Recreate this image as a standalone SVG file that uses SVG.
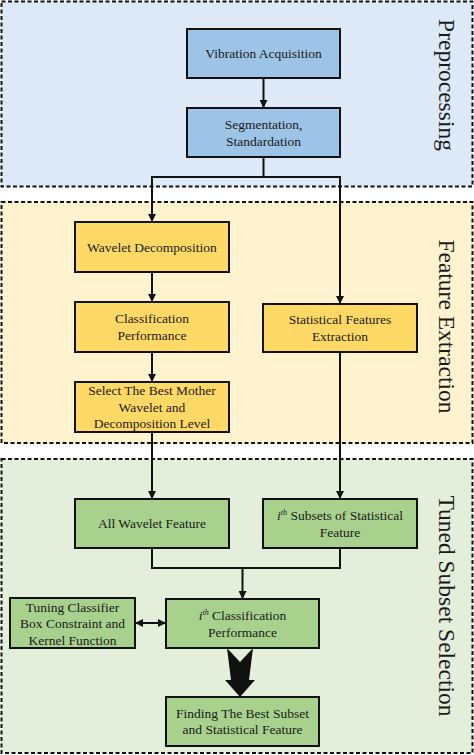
<svg xmlns="http://www.w3.org/2000/svg" width="474" height="755" viewBox="0 0 474 755">
<defs>
<style>
.panel{stroke:#111;stroke-width:2;stroke-dasharray:4 2.5}
.box{stroke:#111;stroke-width:2}
.blue{fill:#9dc3e6}.yellow{fill:#ffd966}.green{fill:#a9d18e}
.t{font-family:"Liberation Serif","Times New Roman",serif;font-size:13.5px;fill:#1a1a1a;text-anchor:middle}
.lbl{font-family:"Liberation Serif","Times New Roman",serif;font-size:23.5px;fill:#1a1a1a;text-anchor:middle}
.ln{fill:none;stroke:#111;stroke-width:2}
.it{font-style:italic}
</style>
<marker id="ah" viewBox="0 0 10 10" refX="10" refY="5" markerWidth="8" markerHeight="8" markerUnits="userSpaceOnUse" orient="auto-start-reverse">
<path d="M0,0 L10,5 L0,10 Z" fill="#111"/>
</marker>
</defs>
<rect width="474" height="755" fill="#ffffff"/>
<g id="panel-preprocessing">
<rect class="panel" x="1.5" y="1.5" width="471" height="185" fill="#dde9f6"/>
<text class="lbl" transform="translate(439,85) rotate(90)">Preprocessing</text>
</g>
<g id="panel-feature">
<rect class="panel" x="1.5" y="202" width="471" height="241" fill="#fff2cf"/>
<text class="lbl" transform="translate(439,326.5) rotate(90)">Feature Extraction</text>
</g>
<g id="panel-tuned">
<rect class="panel" x="1.5" y="459" width="471" height="294" fill="#e3efda"/>
<text class="lbl" transform="translate(439,606) rotate(90)">Tuned Subset Selection</text>
</g>
<g id="connectors">
<line class="ln" x1="263.5" y1="78" x2="263.5" y2="108" marker-end="url(#ah)"/>
<polyline class="ln" points="263.5,157 263.5,177"/>
<polyline class="ln" points="152,222 152,177 340,177 340,304" marker-start="url(#ah)" marker-end="url(#ah)"/>
<line class="ln" x1="152" y1="272" x2="152" y2="302" marker-end="url(#ah)"/>
<line class="ln" x1="152" y1="352" x2="152" y2="382" marker-end="url(#ah)"/>
<line class="ln" x1="152" y1="432" x2="152" y2="499" marker-end="url(#ah)"/>
<line class="ln" x1="340" y1="352" x2="340" y2="499" marker-end="url(#ah)"/>
<polyline class="ln" points="152,548 152,568 340,568 340,548"/>
<line class="ln" x1="242.5" y1="568" x2="242.5" y2="599" marker-end="url(#ah)"/>
<line class="ln" x1="135" y1="623" x2="166" y2="623" marker-start="url(#ah)" marker-end="url(#ah)"/>
<polygon points="227,648 240,662 253,648 249,680 255,680 240,697 225,680 231,680" fill="#111"/>
</g>
<g id="node-vibration">
<rect class="box blue" x="187" y="29" width="153" height="49"/>
<text class="t" x="263.5" y="58">Vibration Acquisition</text>
</g>
<g id="node-segmentation">
<rect class="box blue" x="187" y="108" width="153" height="49"/>
<text class="t" x="263.5" y="129">Segmentation,</text>
<text class="t" x="263.5" y="145.5">Standardation</text>
</g>
<g id="node-wavelet-decomposition">
<rect class="box yellow" x="75" y="222" width="154" height="50"/>
<text class="t" x="152" y="251.5">Wavelet Decomposition</text>
</g>
<g id="node-classification-performance">
<rect class="box yellow" x="75" y="302" width="154" height="50"/>
<text class="t" x="152" y="323">Classification</text>
<text class="t" x="152" y="339.5">Performance</text>
</g>
<g id="node-select-best">
<rect class="box yellow" x="75" y="382" width="154" height="50"/>
<text class="t" x="152" y="395">Select The Best Mother</text>
<text class="t" x="152" y="411.5">Wavelet and</text>
<text class="t" x="152" y="428">Decomposition Level</text>
</g>
<g id="node-statistical-features">
<rect class="box yellow" x="263" y="304" width="154" height="48"/>
<text class="t" x="340" y="323.5">Statistical Features</text>
<text class="t" x="340" y="340.5">Extraction</text>
</g>
<g id="node-all-wavelet">
<rect class="box green" x="75" y="499" width="154" height="49"/>
<text class="t" x="152" y="528">All Wavelet Feature</text>
</g>
<g id="node-ith-subsets">
<rect class="box green" x="263" y="499" width="154" height="49"/>
<text class="t" x="340" y="519.5"><tspan class="it">i</tspan><tspan class="it" font-size="8" dy="-5">th</tspan><tspan dy="5"> Subsets of Statistical</tspan></text>
<text class="t" x="340" y="536.5">Feature</text>
</g>
<g id="node-ith-classification">
<rect class="box green" x="166" y="599" width="153" height="49"/>
<text class="t" x="242.5" y="620"><tspan class="it">i</tspan><tspan class="it" font-size="8" dy="-5">th</tspan><tspan dy="5"> Classification</tspan></text>
<text class="t" x="242.5" y="636.5">Performance</text>
</g>
<g id="node-tuning">
<rect class="box green" x="10" y="598" width="125" height="50"/>
<text class="t" x="72.5" y="611.5">Tuning Classifier</text>
<text class="t" x="72.5" y="628">Box Constraint and</text>
<text class="t" x="72.5" y="644.5">Kernel Function</text>
</g>
<g id="node-finding">
<rect class="box green" x="166" y="697" width="153" height="49"/>
<text class="t" x="242.5" y="717.5">Finding The Best Subset</text>
<text class="t" x="242.5" y="733.5">and Statistical Feature</text>
</g>
</svg>
